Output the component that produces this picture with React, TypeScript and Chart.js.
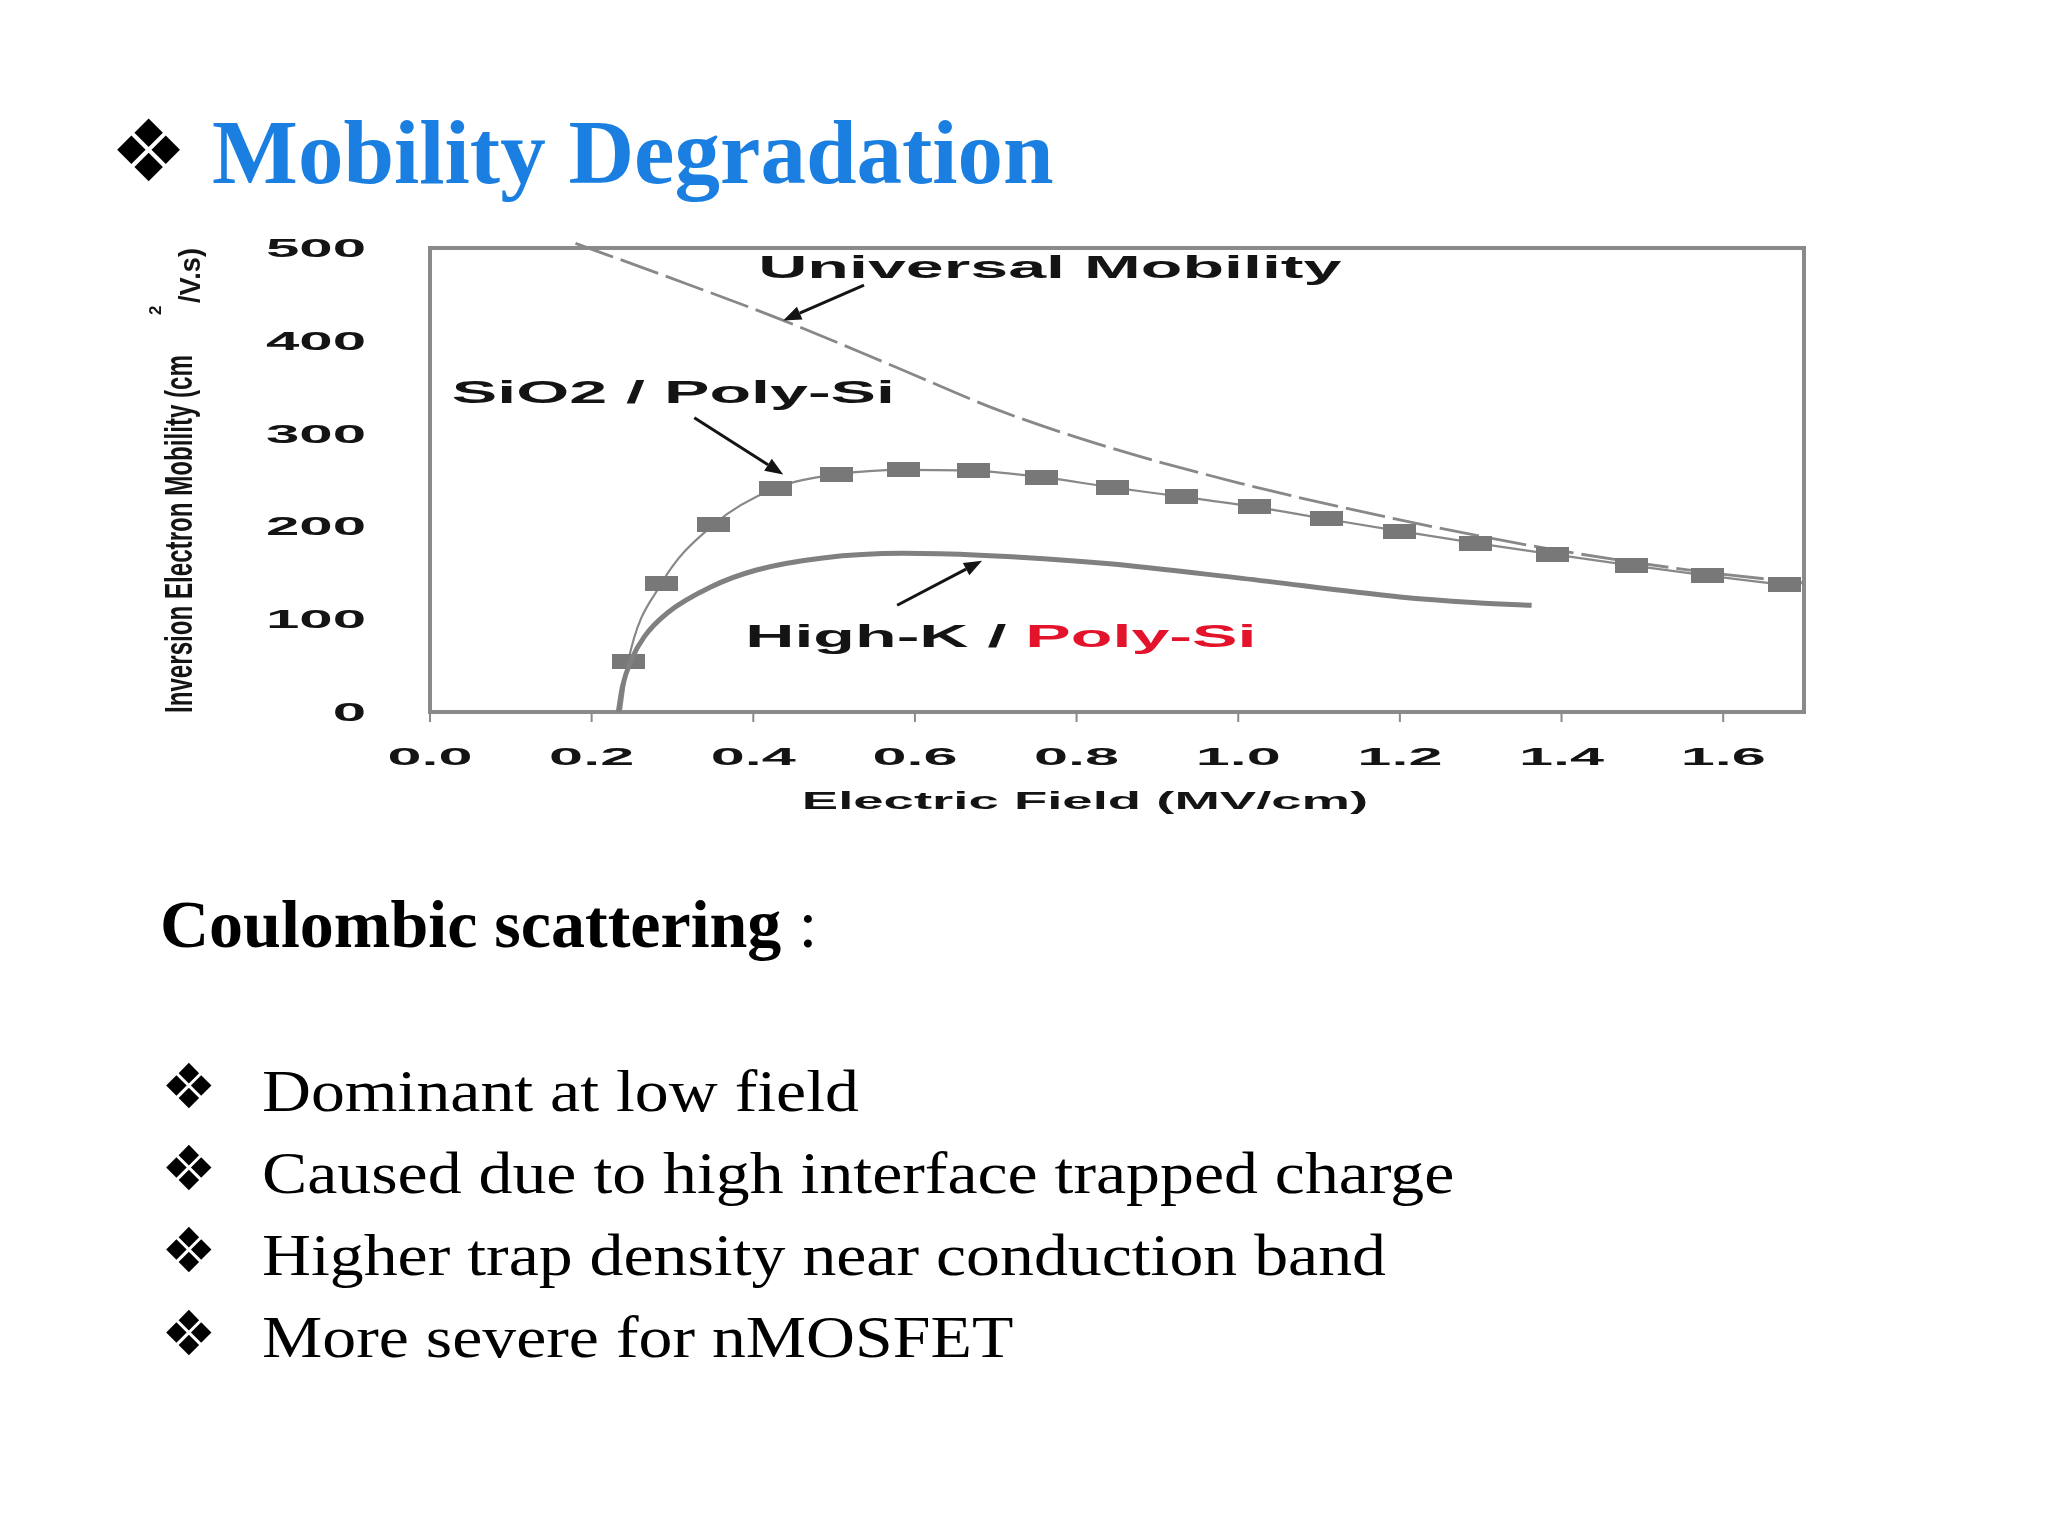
import React, { useEffect, useRef } from "react";
import { Chart, registerables } from "chart.js";

Chart.register(...registerables);

// Axis ticks (electric field in MV/cm, mobility in cm^2/V.s)
const FIELD_TICKS = [0.0, 0.2, 0.4, 0.6, 0.8, 1.0, 1.2, 1.4, 1.6];
const FIELD_TICK_LABELS = ["0.0", "0.2", "0.4", "0.6", "0.8", "1.0", "1.2", "1.4", "1.6"];
const MOBILITY_TICKS = [0, 100, 200, 300, 400, 500];
const MOBILITY_TICK_LABELS = ["0", "100", "200", "300", "400", "500"];

// Universal mobility curve
const UNIVERSAL_FIELD = [0.18, 0.3, 0.437, 0.57, 0.704, 0.837, 1.0, 1.2, 1.39, 1.575, 1.7];
const UNIVERSAL_MOBILITY = [505, 467, 422, 374, 325, 286, 247, 207, 175, 151, 139];

// SiO2 / Poly-Si measured points (first point is the curve's foot, unmarked)
const SIO2_FIELD = [0.236, 0.245, 0.286, 0.351, 0.427, 0.503, 0.586, 0.673, 0.757, 0.844, 0.93, 1.02, 1.109, 1.2, 1.294, 1.389, 1.486, 1.581, 1.676];
const SIO2_MOBILITY = [0, 54, 138, 202, 241, 256, 261, 260, 253, 242, 232, 221, 208, 195, 182, 170, 158, 147, 137];

// High-K / Poly-Si curve
const HIGHK_FIELD = [0.233, 0.238, 0.249, 0.265, 0.294, 0.348, 0.404, 0.486, 0.585, 0.68, 0.837, 1.005, 1.2, 1.29, 1.363];
const HIGHK_MOBILITY = [0, 27, 56, 81, 107, 135, 153, 166, 171, 169, 160, 144, 124, 118, 115];

// Callout labels, anchored in data space (left edge, baseline)
const CALLOUTS = [
  { field: 0.406, mobility: 468, parts: [{ text: "Universal Mobility", color: "#141414" }] },
  { field: 0.027, mobility: 333, parts: [{ text: "SiO2 / Poly-Si", color: "#141414" }] },
  {
    field: 0.39,
    mobility: 70,
    parts: [
      { text: "High-K / ", color: "#141414" },
      { text: "Poly-Si", color: "#e2132b" },
    ],
  },
];

// Callout arrows: from (field, mobility) to (field, mobility)
const ARROWS = [
  { from: [0.537, 460], to: [0.437, 422] },
  { from: [0.327, 317], to: [0.437, 256] },
  { from: [0.578, 115], to: [0.683, 163] },
];

const BULLETS = [
  "Dominant at low field",
  "Caused due to high interface trapped charge",
  "Higher trap density near conduction band",
  "More severe for nMOSFET",
];

const SANS = "'Liberation Sans', Arial, sans-serif";
const SERIF = "'Liberation Serif', 'Times New Roman', serif";
const FRAME = "#8a8a8a";
const INK = "#141414";

const pts = (xs: number[], ys: number[]) => xs.map((x, i) => ({ x, y: ys[i] }));

// Draws text widened horizontally by sx (the figure uses extended lettering)
function drawWide(
  ctx: CanvasRenderingContext2D,
  text: string,
  x: number,
  y: number,
  sx: number,
  align: "left" | "center" | "right" = "left"
) {
  const w = ctx.measureText(text).width * sx;
  const x0 = align === "right" ? x - w : align === "center" ? x - w / 2 : x;
  ctx.save();
  ctx.translate(x0, y);
  ctx.scale(sx, 1);
  ctx.textAlign = "left";
  ctx.fillText(text, 0, 0);
  ctx.restore();
  return w;
}

// Draws text squeezed/stretched along its direction to a fixed length
function drawFit(ctx: CanvasRenderingContext2D, text: string, x: number, y: number, len: number) {
  const s = len / ctx.measureText(text).width;
  ctx.save();
  ctx.translate(x, y);
  ctx.scale(s, 1);
  ctx.textAlign = "left";
  ctx.fillText(text, 0, 0);
  ctx.restore();
}

const decor = {
  id: "decor",
  beforeDatasetsDraw(chart: any) {
    const { ctx, chartArea: a, scales } = chart;
    ctx.save();
    // plot frame
    ctx.strokeStyle = FRAME;
    ctx.lineWidth = 4;
    ctx.strokeRect(a.left, a.top, a.right - a.left, a.bottom - a.top);
    // x tick marks below the axis
    ctx.lineWidth = 2;
    scales.x.ticks.forEach((t: any) => {
      const px = scales.x.getPixelForValue(t.value);
      ctx.beginPath();
      ctx.moveTo(px, a.bottom);
      ctx.lineTo(px, a.bottom + 10);
      ctx.stroke();
    });
    ctx.restore();
  },
  afterDatasetsDraw(chart: any) {
    const { ctx, chartArea: a, scales } = chart;
    const xs = scales.x;
    const ys = scales.y;
    ctx.save();
    ctx.fillStyle = INK;
    ctx.textBaseline = "alphabetic";

    // y tick labels
    ctx.font = `bold 25px ${SANS}`;
    ys.ticks.forEach((t: any, i: number) => {
      const py = ys.getPixelForValue(t.value);
      drawWide(ctx, MOBILITY_TICK_LABELS[i], a.left - 64, py + 9, 2.4, "right");
    });

    // x tick labels
    ctx.font = `bold 24px ${SANS}`;
    xs.ticks.forEach((t: any, i: number) => {
      const px = xs.getPixelForValue(t.value);
      drawWide(ctx, FIELD_TICK_LABELS[i], px, a.bottom + 53, 2.55, "center");
    });

    // x axis title
    ctx.font = `bold 23px ${SANS}`;
    drawWide(ctx, "Electric Field (MV/cm)", a.left + 655, a.bottom + 97, 2.37, "center");

    // y axis title (reads bottom to top, narrow lettering)
    ctx.save();
    ctx.translate(a.left - 238, a.bottom + 1);
    ctx.rotate(-Math.PI / 2);
    ctx.font = `bold 38px ${SANS}`;
    drawFit(ctx, "Inversion Electron Mobility (cm", 0, 0, 358);
    ctx.font = `bold 17px ${SANS}`;
    ctx.fillText("2", 398, -31);
    ctx.font = `bold 30px ${SANS}`;
    drawFit(ctx, "/V.s)", 410, 8, 55);
    ctx.restore();

    // callout arrows
    ctx.strokeStyle = INK;
    ctx.fillStyle = INK;
    ctx.lineWidth = 3;
    ARROWS.forEach((ar) => {
      const x1 = xs.getPixelForValue(ar.from[0]);
      const y1 = ys.getPixelForValue(ar.from[1]);
      const x2 = xs.getPixelForValue(ar.to[0]);
      const y2 = ys.getPixelForValue(ar.to[1]);
      const ang = Math.atan2(y2 - y1, x2 - x1);
      const head = 18;
      const half = 7;
      const bx = x2 - head * Math.cos(ang);
      const by = y2 - head * Math.sin(ang);
      ctx.beginPath();
      ctx.moveTo(x1, y1);
      ctx.lineTo(bx, by);
      ctx.stroke();
      ctx.beginPath();
      ctx.moveTo(x2, y2);
      ctx.lineTo(bx + half * Math.sin(ang), by - half * Math.cos(ang));
      ctx.lineTo(bx - half * Math.sin(ang), by + half * Math.cos(ang));
      ctx.closePath();
      ctx.fill();
    });

    // callout labels
    ctx.font = `bold 32px ${SANS}`;
    CALLOUTS.forEach((c) => {
      let x = xs.getPixelForValue(c.field);
      const y = ys.getPixelForValue(c.mobility);
      c.parts.forEach((p) => {
        ctx.fillStyle = p.color;
        x += drawWide(ctx, p.text, x, y, 2.13, "left");
      });
    });
    ctx.restore();
  },
};

export default function App() {
  const ref = useRef<HTMLCanvasElement>(null);

  useEffect(() => {
    const canvas = ref.current;
    if (!canvas) return;
    const marker = document.createElement("canvas");
    marker.width = 33;
    marker.height = 15;
    const mctx = marker.getContext("2d");
    if (mctx) {
      mctx.fillStyle = "#787878";
      mctx.fillRect(0, 0, 33, 15);
    }

    const chart = new Chart(canvas, {
      type: "line",
      data: {
        datasets: [
          {
            label: "High-K / Poly-Si",
            data: pts(HIGHK_FIELD, HIGHK_MOBILITY),
            borderColor: "#808080",
            borderWidth: 5,
            pointRadius: 0,
            cubicInterpolationMode: "monotone",
          },
          {
            label: "SiO2 / Poly-Si",
            data: pts(SIO2_FIELD, SIO2_MOBILITY),
            borderColor: "#888888",
            borderWidth: 2.2,
            pointStyle: marker,
            pointRadius: (c: any) => (c.dataIndex === 0 ? 0 : 8),
            cubicInterpolationMode: "monotone",
          },
          {
            label: "Universal Mobility",
            data: pts(UNIVERSAL_FIELD, UNIVERSAL_MOBILITY),
            borderColor: "#888888",
            borderWidth: 2.8,
            borderDash: [40, 8],
            pointRadius: 0,
            cubicInterpolationMode: "monotone",
            clip: false,
          },
        ] as any,
      },
      options: {
        responsive: false,
        animation: false,
        devicePixelRatio: 1,
        layout: { padding: { left: 430, top: 248, right: 244, bottom: 824 } },
        plugins: { legend: { display: false }, tooltip: { enabled: false } },
        events: [],
        scales: {
          x: {
            type: "linear",
            min: 0,
            max: 1.7,
            display: false,
            afterBuildTicks: (s: any) => {
              s.ticks = FIELD_TICKS.map((v) => ({ value: v }));
            },
          },
          y: {
            type: "linear",
            min: 0,
            max: 500,
            display: false,
            afterBuildTicks: (s: any) => {
              s.ticks = MOBILITY_TICKS.map((v) => ({ value: v }));
            },
          },
        },
      } as any,
      plugins: [decor],
    });
    return () => chart.destroy();
  }, []);

  const bulletGlyph = {
    fontFamily: "'DejaVu Sans', sans-serif",
    color: "#000",
    position: "absolute" as const,
    lineHeight: 1,
    whiteSpace: "nowrap" as const,
  };

  return (
    <div
      style={{
        position: "absolute",
        left: 0,
        top: 0,
        width: 2048,
        height: 1536,
        background: "#ffffff",
        overflow: "hidden",
      }}
    >
      <canvas
        ref={ref}
        width={2048}
        height={1536}
        style={{ position: "absolute", left: 0, top: 0, width: 2048, height: 1536 }}
      />

      <span style={{ ...bulletGlyph, left: 110, top: 108, fontSize: 86 }}>❖</span>
      <div
        style={{
          position: "absolute",
          left: 212,
          top: 183 - 0.8375 * 91,
          font: `bold 91px/1 ${SERIF}`,
          color: "#1a7fe0",
          whiteSpace: "nowrap",
        }}
      >
        Mobility Degradation
      </div>

      <div
        style={{
          position: "absolute",
          left: 160,
          top: 947 - 0.8375 * 68,
          font: `68px/1 ${SERIF}`,
          color: "#000",
          whiteSpace: "nowrap",
        }}
      >
        <b>Coulombic scattering</b> :
      </div>

      {BULLETS.map((t, i) => {
        const base = 1111 + i * 82.2;
        return (
          <React.Fragment key={t}>
            <span style={{ ...bulletGlyph, left: 161, top: base - 55, fontSize: 62 }}>❖</span>
            <div
              style={{
                position: "absolute",
                left: 262,
                top: base - 0.8375 * 60,
                font: `60px/1 ${SERIF}`,
                color: "#000",
                whiteSpace: "nowrap",
                transform: "scaleX(1.13)",
                transformOrigin: "0 0",
              }}
            >
              {t}
            </div>
          </React.Fragment>
        );
      })}
    </div>
  );
}
